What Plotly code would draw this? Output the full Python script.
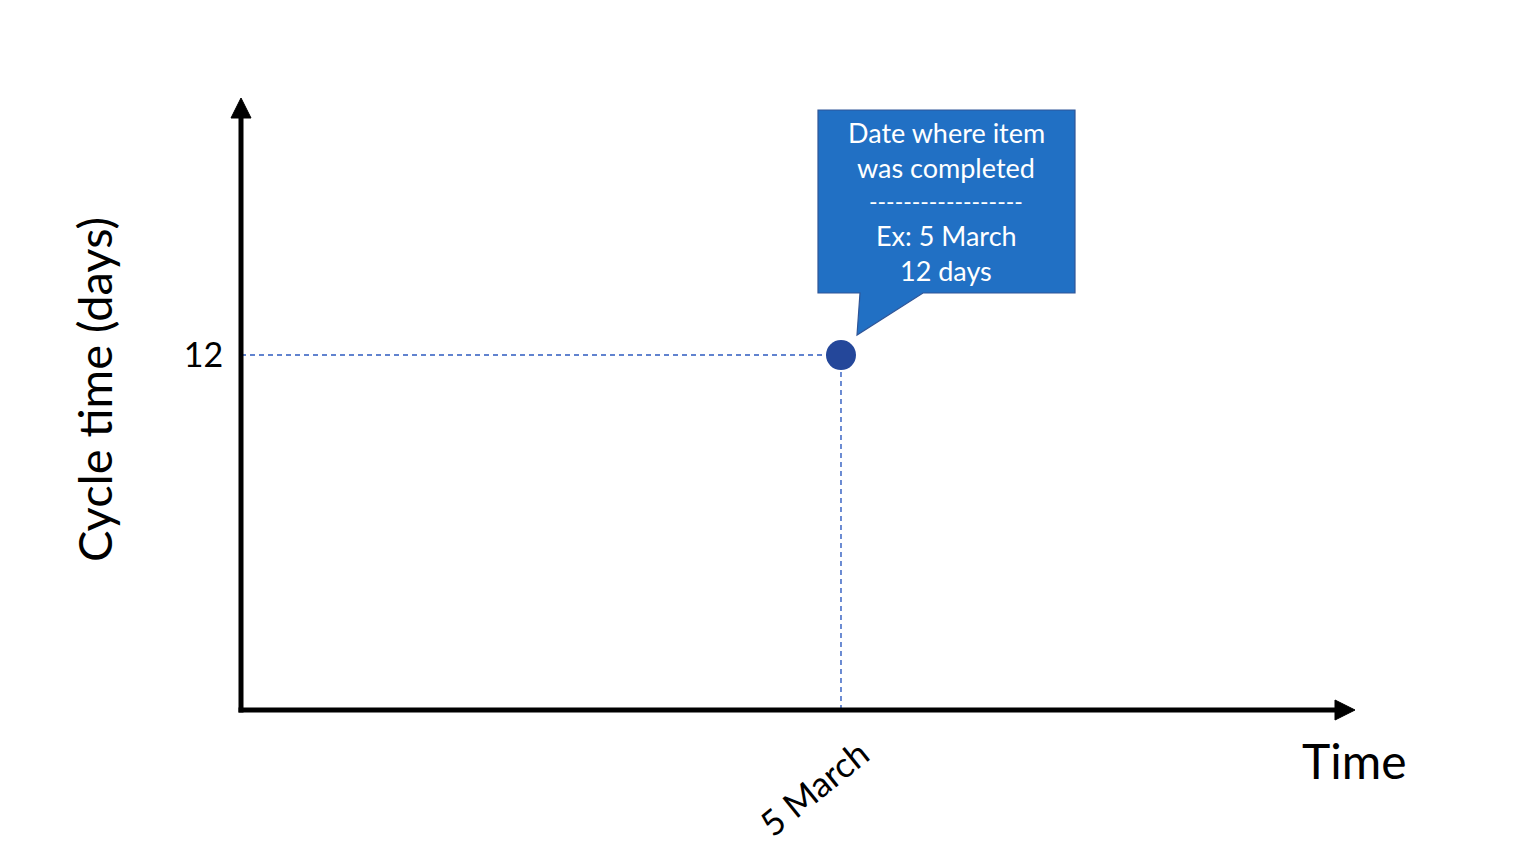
import plotly.graph_objects as go

# ---- data ----
completed_dates = ["2024-03-05"]
cycle_days = [12]
x_tick_labels = ["5 March"]
y_tick_values = [12]
y_tick_labels = ["12"]
x_range = ["2024-02-01", "2024-04-02 06:30"]
y_range = [0, 20.69]
callout_lines = ["Date where item", "was completed", "------------------", "Ex: 5 March", "12 days"]

# ---- layout geometry (reference pixels; page body adds an 8px margin) ----
OFF = 8
W, H = 1536 - 2 * OFF, 864 - 2 * OFF
L, R, T, B = 241, 1355, 98, 710


def px(xp):
    return (xp - L) / (R - L)


def py(yp):
    return (B - yp) / (B - T)


FONT = "Lato"
GUIDE = dict(color="#2E5BC0", width=1.4, dash="5px,4px")
fig = go.Figure()

# dashed guide lines from data
fig.add_trace(go.Scatter(
    x=[x_range[0], completed_dates[0]], y=[cycle_days[0], cycle_days[0]],
    mode="lines", line=GUIDE, hoverinfo="skip", showlegend=False))
fig.add_trace(go.Scatter(
    x=[completed_dates[0], completed_dates[0]], y=[y_range[0], cycle_days[0]],
    mode="lines", line=GUIDE, hoverinfo="skip", showlegend=False))
fig.add_trace(go.Scatter(
    x=completed_dates, y=cycle_days, mode="markers",
    marker=dict(size=30, color="#24479A"),
    showlegend=False))

shapes = []
# axes lines
shapes.append(dict(type="line", xref="paper", yref="paper",
                   x0=px(L), y0=py(B + 2.5), x1=px(L), y1=py(T + 16),
                   line=dict(color="black", width=5)))
shapes.append(dict(type="line", xref="paper", yref="paper",
                   x0=px(L - 2.5), y0=py(B), x1=px(R - 16), y1=py(B),
                   line=dict(color="black", width=5)))
# arrow heads
shapes.append(dict(type="path", xref="paper", yref="paper",
                   path=f"M {px(L-10)} {py(T+20)} L {px(L)} {py(T)} L {px(L+10)} {py(T+20)} Z",
                   fillcolor="black", line=dict(color="black", width=1)))
shapes.append(dict(type="path", xref="paper", yref="paper",
                   path=f"M {px(R-20)} {py(B-10)} L {px(R)} {py(B)} L {px(R-20)} {py(B+10)} Z",
                   fillcolor="black", line=dict(color="black", width=1)))
# callout box with tail
bx0, bx1, by0, by1 = 818, 1075, 110, 293
pts = [(bx0, by0), (bx1, by0), (bx1, by1), (923, by1), (857, 335), (860, by1), (bx0, by1)]
path = "M " + " L ".join(f"{px(a)} {py(b)}" for a, b in pts) + " Z"
shapes.append(dict(type="path", xref="paper", yref="paper", path=path,
                   fillcolor="#2170C4", line=dict(color="#2F5597", width=1.2)))

annotations = []
line_y = [132, 167, 201, 236, 270]
line_size = [27, 27, 23, 27, 27]
for txt, yy, sz in zip(callout_lines, line_y, line_size):
    annotations.append(dict(xref="paper", yref="paper", x=px(946), y=py(yy),
                            text=txt, showarrow=False,
                            font=dict(family=FONT, size=sz, color="white"),
                            align="center", xanchor="center", yanchor="middle"))
annotations.append(dict(xref="x", yref="paper", x=completed_dates[0], y=0,
                        text=x_tick_labels[0], showarrow=False, textangle=-39,
                        xshift=-27, yshift=-77, xanchor="center", yanchor="middle",
                        font=dict(family=FONT, size=35, color="black")))
annotations.append(dict(xref="paper", yref="paper", x=px(1354), y=py(760),
                        text="Time", showarrow=False, xanchor="center", yanchor="middle",
                        font=dict(family=FONT, size=48, color="black")))
annotations.append(dict(xref="paper", yref="paper", x=px(94), y=py(390),
                        text="Cycle time (days)", showarrow=False, textangle=-90,
                        xanchor="center", yanchor="middle",
                        font=dict(family=FONT, size=47, color="black")))

fig.update_layout(
    width=W, height=H,
    margin=dict(l=L - OFF, r=W - (R - OFF), t=T - OFF, b=H - (B - OFF), pad=0),
    paper_bgcolor="white", plot_bgcolor="white",
    shapes=shapes, annotations=annotations,
    xaxis=dict(type="date", range=x_range, showgrid=False, zeroline=False,
               showline=False, showticklabels=False, fixedrange=True),
    yaxis=dict(range=y_range, showgrid=False, zeroline=False, showline=False,
               tickvals=y_tick_values, ticktext=y_tick_labels, ticks="outside",
               ticklen=10, tickcolor="rgba(0,0,0,0)",
               tickfont=dict(family=FONT, size=34, color="black"), fixedrange=True),
    showlegend=False,
)

fig.write_html("out.html", config={"displayModeBar": False})
